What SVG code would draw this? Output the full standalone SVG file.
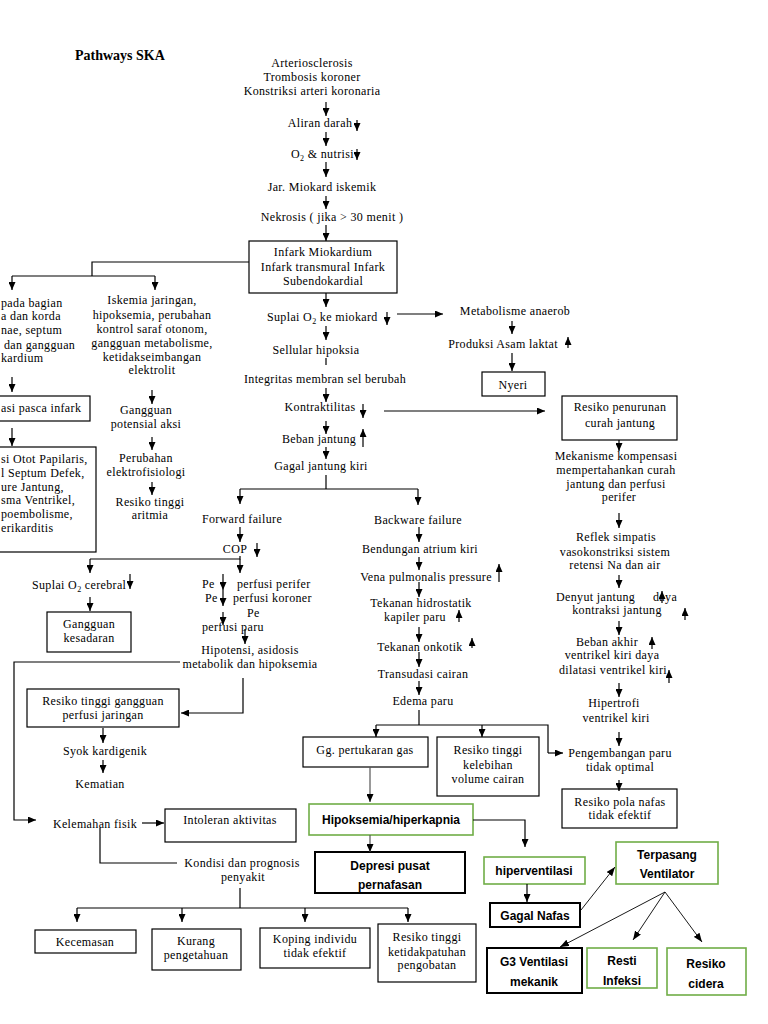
<svg xmlns="http://www.w3.org/2000/svg" width="768" height="1024" viewBox="0 0 768 1024">
<style>
.t{font-family:"Liberation Serif","Times New Roman",serif;font-size:12px;letter-spacing:.35px;fill:#000}
.c{text-anchor:middle}
.e{text-anchor:end}
.sub{font-size:8px}
.title{font-family:"Liberation Serif","Times New Roman",serif;font-size:14px;font-weight:bold;fill:#000}
.b{font-family:"Liberation Sans",Arial,sans-serif;font-weight:bold;font-size:12px;text-anchor:middle;fill:#000}
.box{fill:#fff;stroke:#000;stroke-width:1.2}
.kbox{fill:#fff;stroke:#000;stroke-width:2}
.gbox{fill:#fff;stroke:#70ad47;stroke-width:1.6}
.ln{fill:none;stroke:#000;stroke-width:1.2}
.ar{fill:none;stroke:#000;stroke-width:1.2;marker-end:url(#ah)}
.gr{fill:none;stroke:#555;stroke-width:1.2;marker-end:url(#ah)}
.th{fill:none;stroke:#000;stroke-width:.9;marker-end:url(#ah2)}
</style>
<defs>
<marker id="ah" markerUnits="userSpaceOnUse" markerWidth="8" markerHeight="7" refX="8" refY="3.5" orient="auto"><path d="M0,0 L8,3.5 L0,7 z" fill="#000"/></marker>
<marker id="ah2" markerUnits="userSpaceOnUse" markerWidth="9" markerHeight="7" refX="9" refY="3.5" orient="auto"><path d="M0,0 L9,3.5 L0,7 z" fill="#000"/></marker>
</defs>
<rect width="768" height="1024" fill="#fff"/>

<g id="title"><text class="title" x="75" y="60">Pathways SKA</text></g>

<g id="n-etiologi"><text class="t c" x="312" y="67">Arteriosclerosis</text><text class="t c" x="312" y="81">Trombosis koroner</text><text class="t c" x="312" y="95">Konstriksi arteri koronaria</text></g>
<g id="n-aliran"><text class="t c" x="320" y="127">Aliran darah</text></g>
<g id="n-o2"><text class="t" x="291" y="158">O<tspan class="sub" dy="3">2</tspan><tspan dy="-3"> &amp; nutrisi</tspan></text></g>
<g id="n-iskemik"><text class="t c" x="322" y="191">Jar. Miokard iskemik</text></g>
<g id="n-nekrosis"><text class="t c" x="332" y="221">Nekrosis ( jika &gt; 30 menit )</text></g>
<g id="n-infark"><rect class="box" x="249" y="241" width="148" height="52"/><text class="t c" x="323" y="256">Infark Miokardium</text><text class="t c" x="323" y="271">Infark transmural Infark</text><text class="t c" x="323" y="285">Subendokardial</text></g>

<g id="n-disfungsi"><text class="t" x="1" y="307">pada bagian</text><text class="t" x="1" y="320">a dan korda</text><text class="t" x="1" y="334">nae, septum</text><text class="t" x="4" y="349">dan gangguan</text><text class="t" x="1" y="362">kardium</text></g>
<g id="n-komplikasi"><rect class="box" x="-2" y="396" width="92" height="25"/><text class="t" x="1" y="412">asi pasca infark</text></g>
<g id="n-komplikasi-list"><rect class="box" x="-2" y="447" width="98" height="105"/><text class="t" x="1" y="463">si Otot Papilaris,</text><text class="t" x="1" y="477">l Septum Defek,</text><text class="t" x="1" y="491">ure Jantung,</text><text class="t" x="1" y="504">sma Ventrikel,</text><text class="t" x="1" y="518">poembolisme,</text><text class="t" x="1" y="532">erikarditis</text></g>

<g id="n-iskemia"><text class="t c" x="152" y="304">Iskemia jaringan,</text><text class="t c" x="152" y="319">hipoksemia, perubahan</text><text class="t c" x="152" y="333">kontrol saraf otonom,</text><text class="t c" x="152" y="347">gangguan metabolisme,</text><text class="t c" x="152" y="361">ketidakseimbangan</text><text class="t c" x="152" y="374">elektrolit</text></g>
<g id="n-potensial"><text class="t c" x="146" y="414">Gangguan</text><text class="t c" x="146" y="428">potensial aksi</text></g>
<g id="n-elektrofisiologi"><text class="t c" x="146" y="462">Perubahan</text><text class="t c" x="146" y="476">elektrofisiologi</text></g>
<g id="n-aritmia"><text class="t c" x="150" y="506">Resiko tinggi</text><text class="t c" x="150" y="519">aritmia</text></g>

<g id="n-suplai"><text class="t" x="267" y="321">Suplai O<tspan class="sub" dy="3">2</tspan><tspan dy="-3"> ke miokard</tspan></text></g>
<g id="n-anaerob"><text class="t c" x="515" y="315">Metabolisme anaerob</text></g>
<g id="n-laktat"><text class="t c" x="503" y="348">Produksi Asam laktat</text></g>
<g id="n-nyeri"><rect class="box" x="482" y="372" width="63" height="24"/><text class="t c" x="513" y="389">Nyeri</text></g>
<g id="n-hipoksia"><text class="t c" x="316" y="354">Sellular hipoksia</text></g>
<g id="n-integritas"><text class="t c" x="325" y="383">Integritas membran sel berubah</text></g>
<g id="n-kontraktilitas"><text class="t c" x="320" y="411">Kontraktilitas</text></g>
<g id="n-beban"><text class="t c" x="319" y="443">Beban jantung</text></g>
<g id="n-gagal-kiri"><text class="t c" x="321" y="470">Gagal jantung kiri</text></g>

<g id="n-forward"><text class="t c" x="242" y="523">Forward failure</text></g>
<g id="n-cop"><text class="t c" x="235" y="553">COP</text></g>
<g id="n-cerebral"><text class="t" x="32" y="589">Suplai O<tspan class="sub" dy="3">2</tspan><tspan dy="-3"> cerebral</tspan></text></g>
<g id="n-kesadaran"><rect class="box" x="47" y="612" width="84" height="40"/><text class="t c" x="89" y="628">Gangguan</text><text class="t c" x="89" y="642">kesadaran</text></g>
<g id="n-perfusi"><text class="t" x="202" y="588">Pe</text><text class="t" x="237" y="588">perfusi perifer</text><text class="t" x="205" y="602">Pe</text><text class="t" x="233" y="602">perfusi koroner</text><text class="t" x="247" y="617">Pe</text><text class="t" x="202" y="631">perfusi paru</text></g>
<g id="n-hipotensi"><text class="t c" x="250" y="654">Hipotensi, asidosis</text><text class="t c" x="250" y="668">metabolik dan hipoksemia</text></g>
<g id="n-resiko-perfusi"><rect class="box" x="27" y="689" width="152" height="38"/><text class="t c" x="103" y="705">Resiko tinggi gangguan</text><text class="t c" x="103" y="719">perfusi jaringan</text></g>
<g id="n-syok"><text class="t c" x="105" y="755">Syok kardigenik</text></g>
<g id="n-kematian"><text class="t c" x="100" y="788">Kematian</text></g>
<g id="n-kelemahan"><text class="t c" x="95" y="828">Kelemahan fisik</text></g>
<g id="n-intoleran"><rect class="box" x="165" y="809" width="131" height="33"/><text class="t c" x="230" y="824">Intoleran aktivitas</text></g>
<g id="n-kondisi"><text class="t c" x="242" y="867">Kondisi dan prognosis</text><text class="t c" x="243" y="881">penyakit</text></g>
<g id="n-kecemasan"><rect class="box" x="35" y="930" width="101" height="23"/><text class="t c" x="85" y="946">Kecemasan</text></g>
<g id="n-pengetahuan"><rect class="box" x="152" y="929" width="89" height="41"/><text class="t c" x="196" y="945">Kurang</text><text class="t c" x="196" y="959">pengetahuan</text></g>
<g id="n-koping"><rect class="box" x="260" y="928" width="110" height="40"/><text class="t c" x="315" y="943">Koping individu</text><text class="t c" x="315" y="957">tidak efektif</text></g>
<g id="n-ketidakpatuhan"><rect class="box" x="378" y="924" width="98" height="58"/><text class="t c" x="427" y="941">Resiko tinggi</text><text class="t c" x="427" y="956">ketidakpatuhan</text><text class="t c" x="427" y="969">pengobatan</text></g>

<g id="n-backward"><text class="t c" x="418" y="524">Backware failure</text></g>
<g id="n-bendungan"><text class="t c" x="420" y="553">Bendungan atrium kiri</text></g>
<g id="n-vena"><text class="t c" x="426" y="581">Vena pulmonalis pressure</text></g>
<g id="n-hidrostatik"><text class="t c" x="421" y="607">Tekanan hidrostatik</text><text class="t c" x="415" y="621">kapiler paru</text></g>
<g id="n-onkotik"><text class="t c" x="420" y="651">Tekanan onkotik</text></g>
<g id="n-transudasi"><text class="t c" x="423" y="678">Transudasi cairan</text></g>
<g id="n-edema"><text class="t c" x="423" y="705">Edema paru</text></g>
<g id="n-gas"><rect class="box" x="303" y="737" width="125" height="30"/><text class="t c" x="365" y="754">Gg. pertukaran gas</text></g>
<g id="n-volume"><rect class="box" x="437" y="737" width="102" height="59"/><text class="t c" x="488" y="754">Resiko tinggi</text><text class="t c" x="488" y="769">kelebihan</text><text class="t c" x="488" y="783">volume cairan</text></g>
<g id="n-hipoksemia"><rect class="gbox" x="309" y="804" width="164" height="31"/><text class="b" x="391" y="824">Hipoksemia/hiperkapnia</text></g>
<g id="n-depresi"><rect class="kbox" x="315" y="852" width="150" height="41"/><text class="b" x="390" y="870">Depresi pusat</text><text class="b" x="390" y="889">pernafasan</text></g>
<g id="n-hiperventilasi"><rect class="gbox" x="484" y="857" width="101" height="27"/><text class="b" x="534" y="875">hiperventilasi</text></g>
<g id="n-gagal-nafas"><rect class="kbox" x="490" y="903" width="90" height="24"/><text class="b" x="535" y="920">Gagal Nafas</text></g>
<g id="n-ventilator"><rect class="gbox" x="616" y="842" width="102" height="42"/><text class="b" x="667" y="859">Terpasang</text><text class="b" x="667" y="878">Ventilator</text></g>
<g id="n-g3"><rect class="kbox" x="487" y="948" width="95" height="45"/><text class="b" x="534" y="966">G3 Ventilasi</text><text class="b" x="534" y="986">mekanik</text></g>
<g id="n-resti"><rect class="gbox" x="587" y="948" width="70" height="40"/><text class="b" x="622" y="965">Resti</text><text class="b" x="622" y="985">Infeksi</text></g>
<g id="n-cidera"><rect class="gbox" x="667" y="948" width="79" height="47"/><text class="b" x="706" y="968">Resiko</text><text class="b" x="706" y="988">cidera</text></g>

<g id="n-curah"><rect class="box" x="562" y="396" width="115" height="44"/><text class="t c" x="620" y="411">Resiko penurunan</text><text class="t c" x="620" y="427">curah jantung</text></g>
<g id="n-mekanisme"><text class="t c" x="616" y="460">Mekanisme kompensasi</text><text class="t c" x="616" y="474">mempertahankan curah</text><text class="t c" x="616" y="488">jantung dan perfusi</text><text class="t c" x="619" y="501">perifer</text></g>
<g id="n-reflek"><text class="t c" x="616" y="541">Reflek simpatis</text><text class="t c" x="615" y="556">vasokonstriksi sistem</text><text class="t c" x="615" y="569">retensi Na dan air</text></g>
<g id="n-denyut"><text class="t" x="556" y="601">Denyut jantung</text><text class="t" x="653" y="601">daya</text><text class="t c" x="617" y="614">kontraksi jantung</text></g>
<g id="n-beban-akhir"><text class="t c" x="607" y="646">Beban akhir</text><text class="t c" x="612" y="659">ventrikel kiri daya</text><text class="t c" x="613" y="674">dilatasi ventrikel kiri</text></g>
<g id="n-hipertrofi"><text class="t c" x="614" y="707">Hipertrofi</text><text class="t c" x="616" y="722">ventrikel kiri</text></g>
<g id="n-pengembangan"><text class="t c" x="620" y="757">Pengembangan paru</text><text class="t c" x="620" y="771">tidak optimal</text></g>
<g id="n-pola-nafas"><rect class="box" x="562" y="789" width="115" height="39"/><text class="t c" x="620" y="806">Resiko pola nafas</text><text class="t c" x="620" y="819">tidak efektif</text></g>

<g id="connectors">
<path class="ar" d="M326,102V116"/>
<path class="ar" d="M326,132V146"/>
<path class="ar" d="M326,162V177"/>
<path class="ar" d="M326,196V209"/>
<path class="ar" d="M326,225V241"/>
<path class="ar" d="M357,120V131"/>
<path class="ar" d="M357,149V160"/>
<path class="ln" d="M249,262H92V276"/>
<path class="ln" d="M12,276H155"/>
<path class="ar" d="M12,276V290"/>
<path class="ar" d="M155,276V290"/>
<path class="ar" d="M12,377V392"/>
<path class="ar" d="M12,428V446"/>
<path class="ar" d="M152,390V404"/>
<path class="ar" d="M152,437V450"/>
<path class="ar" d="M152,482V495"/>
<path class="ar" d="M326,293V307"/>
<path class="ar" d="M387,312V325"/>
<path class="ar" d="M397,314H443"/>
<path class="ar" d="M512,321V334"/>
<path class="ar" d="M568,348V337"/>
<path class="ar" d="M512,353V371"/>
<path class="ar" d="M326,326V340"/>
<path class="ln" d="M326,358V365"/>
<path class="ar" d="M326,388V402"/>
<path class="ar" d="M363,404V418"/>
<path class="ar" d="M384,411H545"/>
<path class="ar" d="M326,421V434"/>
<path class="ar" d="M363,447V429"/>
<path class="ar" d="M326,447V459"/>
<path class="ln" d="M326,475V489"/>
<path class="ln" d="M240,489H418"/>
<path class="ar" d="M240,489V504"/>
<path class="ar" d="M418,489V505"/>
<path class="ar" d="M240,527V542"/>
<path class="ar" d="M257,543V557"/>
<path class="ln" d="M240,556V559H90"/>
<path class="ar" d="M90,559V573"/>
<path class="ar" d="M240,559V573"/>
<path class="ar" d="M130,574V589"/>
<path class="ar" d="M90,597V611"/>
<path class="ar" d="M223,574V590"/>
<path class="ar" d="M223,590V606"/>
<path class="ar" d="M223,612V625"/>
<path class="ar" d="M245,629V644"/>
<path class="ar" d="M180,662H14V820H36"/>
<path class="ar" d="M243,678V713H181"/>
<path class="ar" d="M103,728V743"/>
<path class="ar" d="M103,760V773"/>
<path class="ar" d="M142,823H164"/>
<path class="ln" d="M100,828V863H177"/>
<path class="ln" d="M240,888V908"/>
<path class="ln" d="M77,908H408"/>
<path class="ar" d="M77,908V922"/>
<path class="ar" d="M182,908V922"/>
<path class="ar" d="M305,908V922"/>
<path class="ar" d="M408,908V922"/>
<path class="ar" d="M419,527V542"/>
<path class="ar" d="M419,557V570"/>
<path class="ar" d="M499,582V564"/>
<path class="ar" d="M419,582V597"/>
<path class="ar" d="M459,622V610"/>
<path class="ar" d="M419,627V642"/>
<path class="ar" d="M472,648V638"/>
<path class="ar" d="M419,652V667"/>
<path class="ar" d="M419,681V695"/>
<path class="ln" d="M419,710V725"/>
<path class="ln" d="M376,725H548V753"/>
<path class="ar" d="M548,753H563"/>
<path class="ar" d="M376,725V737"/>
<path class="ar" d="M482,725V737"/>
<path class="gr" d="M370,767V802"/>
<path class="ar" d="M473,820H525V847"/>
<path class="gr" d="M370,835V852"/>
<path class="ar" d="M527,884V902"/>
<path class="th" d="M581,910L615,867"/>
<path class="th" d="M665,892L560,947"/>
<path class="th" d="M665,892L633,940"/>
<path class="th" d="M665,892L702,942"/>
<path class="ar" d="M619,440V451"/>
<path class="ar" d="M619,513V528"/>
<path class="ar" d="M619,575V588"/>
<path class="ar" d="M662,603V591"/>
<path class="ar" d="M685,620V608"/>
<path class="ar" d="M619,621V635"/>
<path class="ar" d="M652,649V637"/>
<path class="ar" d="M669,683V670"/>
<path class="ar" d="M619,683V697"/>
<path class="ar" d="M619,732V746"/>
<path class="ar" d="M619,780V791"/>
</g>
</svg>
